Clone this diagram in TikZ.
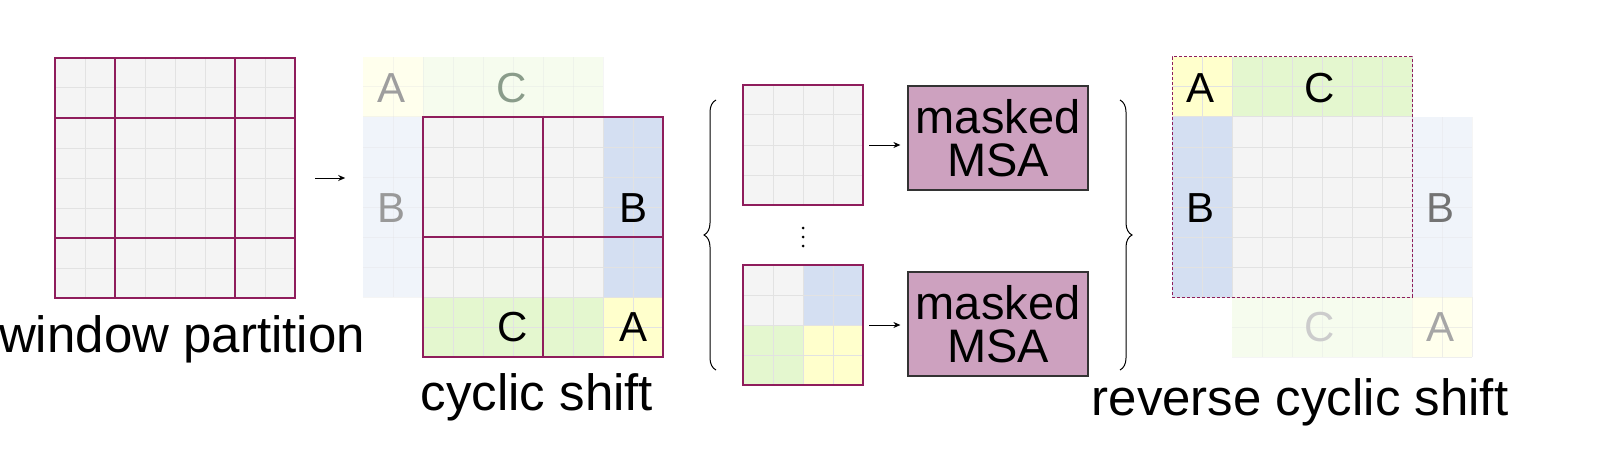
\documentclass[tikz,border=0pt]{standalone}
\usepackage{fontspec}
\setmainfont{Liberation Sans}
\usetikzlibrary{arrows.meta,decorations.pathreplacing}
\definecolor{cg}{HTML}{F4F4F4}
\definecolor{cl}{HTML}{E2E2E2}
\definecolor{cr}{HTML}{8F1D5C}
\definecolor{cb}{HTML}{D4DFF2}
\definecolor{cgr}{HTML}{E4F7CF}
\definecolor{cy}{HTML}{FFFFCC}
\definecolor{cm}{HTML}{CDA1BF}
\newcommand{\glines}[2]{% width height (cells of 30)
  \foreach \i in {1,...,#1}{\draw[cl,line width=1pt] (\i*30,0) -- (\i*30,#2*30);}
  \foreach \j in {1,...,#2}{\draw[cl,line width=1pt] (0,\j*30) -- (#1*30,\j*30);}}
\tikzset{
  lbl/.style={font=\fontsize{42}{42}\selectfont,inner sep=0},
  flbl/.style={lbl,text=black!40},
  captxt/.style={font=\fontsize{51}{51}\selectfont,inner sep=0},
  win/.style={draw=cr,line width=1.3pt},
  box/.style={draw=black!80,line width=1.2pt,fill=cm,minimum width=180pt,minimum height=104pt,align=center,font=\fontsize{47}{47}\selectfont,inner sep=0},
  arr/.style={-{Stealth[length=7pt,width=6pt]},line width=1pt},
  br/.style={decorate,decoration={brace,amplitude=12pt},line width=1pt}
}
\begin{document}
\begin{tikzpicture}[x=1pt,y=-1pt]
\useasboundingbox (0,0) rectangle (1608,468);
% grid 1
\begin{scope}[shift={(55,58)}]
\fill[cg] (0,0) rectangle (240,240);
\glines{8}{8}
\draw[win] (0,0) rectangle (240,240);
\draw[win] (60,0)--(60,240) (180,0)--(180,240) (0,60)--(240,60) (0,180)--(240,180);
\end{scope}
\node[minimum width=240pt,minimum height=240pt] (g1) at (175,178) {};
\node[captxt,anchor=base] (t1) at (182,352) {window partition};
% grid 2 faded
\begin{scope}[shift={(363,57)},opacity=.35]
\fill[cy] (0,0) rectangle (60,60);
\fill[cgr] (60,0) rectangle (240,60);
\fill[cb] (0,60) rectangle (60,240);
\fill[cg] (60,60) rectangle (240,240);
\glines{8}{8}
\end{scope}
\node[minimum width=240pt,minimum height=240pt] (g2b) at (483,177) {};
\node[flbl,text=black!38] at (392,88) {A};
\node[flbl,text=black!40!green!15!gray!80] at (512,88) {C};
\node[flbl] at (392,208) {B};
% grid 2 front
\begin{scope}[shift={(423,117)}]
\fill[cg] (0,0) rectangle (240,240);
\fill[cb] (180,0) rectangle (240,180);
\fill[cgr] (0,180) rectangle (180,240);
\fill[cy] (180,180) rectangle (240,240);
\glines{8}{8}
\draw[win] (0,0) rectangle (240,240);
\draw[win] (120,0)--(120,240) (0,120)--(240,120);
\end{scope}
\node[minimum width=240pt,minimum height=240pt] (g2) at (543,237) {};
\node[lbl] at (633,208) {B};
\node[lbl] at (513,327) {C};
\node[lbl] at (633,327) {A};
\node[captxt,anchor=base] (t2) at (537,410) {cyclic shift};
\draw[arr] (g1.east) ++(20,0) -- ++(30,0);
% braces
\coordinate (bl1) at (716,100); \coordinate (bl2) at (716,370);
\draw[br] (bl2) -- (bl1);
% small grids
\begin{scope}[shift={(743,85)}]
\fill[cg] (0,0) rectangle (120,120);
\glines{4}{4}
\draw[win] (0,0) rectangle (120,120);
\end{scope}
\node[minimum width=120pt,minimum height=120pt,inner sep=0] (s1) at (803,145) {};
\begin{scope}[shift={(743,265)}]
\fill[cg] (0,0) rectangle (120,120);
\fill[cb] (60,0) rectangle (120,60);
\fill[cgr] (0,60) rectangle (60,120);
\fill[cy] (60,60) rectangle (120,120);
\glines{4}{4}
\draw[win] (0,0) rectangle (120,120);
\end{scope}
\node[minimum width=120pt,minimum height=120pt,inner sep=0] (s2) at (803,325) {};
\node[inner sep=0,minimum size=24pt] (dots) at (803,237) {};
\foreach \d in {-9,0,9} \fill ([yshift=\d pt]dots.center) circle (1.5pt);
\node[box] (m1) at (998,138) {masked\\[-4pt]MSA};
\node[box] (m2) at (998,324) {masked\\[-4pt]MSA};
\draw[arr] ([xshift=6pt]s1.east) -- ([xshift=-7pt]m1.west |- s1.east);
\draw[arr] ([xshift=6pt]s2.east) -- ([xshift=-7pt]m2.west |- s2.east);
\coordinate (br1) at (1120,100); \coordinate (br2) at (1120,370);
\draw[br] (br1) -- (br2);
% reverse grid
\begin{scope}[shift={(1172,57)}]
\fill[cg] (0,0) rectangle (240,240);
\fill[cy] (0,0) rectangle (60,60);
\fill[cgr] (60,0) rectangle (240,60);
\fill[cb] (0,60) rectangle (60,240);
\glines{8}{8}
\end{scope}
\begin{scope}[shift={(1232,117)},opacity=.35]
\fill[cb] (180,0) rectangle (240,180);
\fill[cgr] (0,180) rectangle (180,240);
\fill[cy] (180,180) rectangle (240,240);
\begin{scope}[shift={(180,0)}]\glines{2}{8}\end{scope}
\begin{scope}[shift={(0,180)}]\glines{8}{2}\end{scope}
\end{scope}
\node[win,dashed,dash pattern=on 3pt off 2pt,minimum width=240pt,minimum height=240pt,line width=1pt] (g3) at (1292,177) {};
\node[lbl] at (1200,88) {A};
\node[lbl] at (1320,88) {C};
\node[lbl] at (1200,208) {B};
\node[flbl,text=black!55] at (1440,208) {B};
\node[flbl,text=black!20] at (1320,327) {C};
\node[flbl,text=black!35] at (1440,327) {A};
\node[captxt,anchor=base] (t3) at (1300,415) {reverse cyclic shift};
\end{tikzpicture}
\end{document}
